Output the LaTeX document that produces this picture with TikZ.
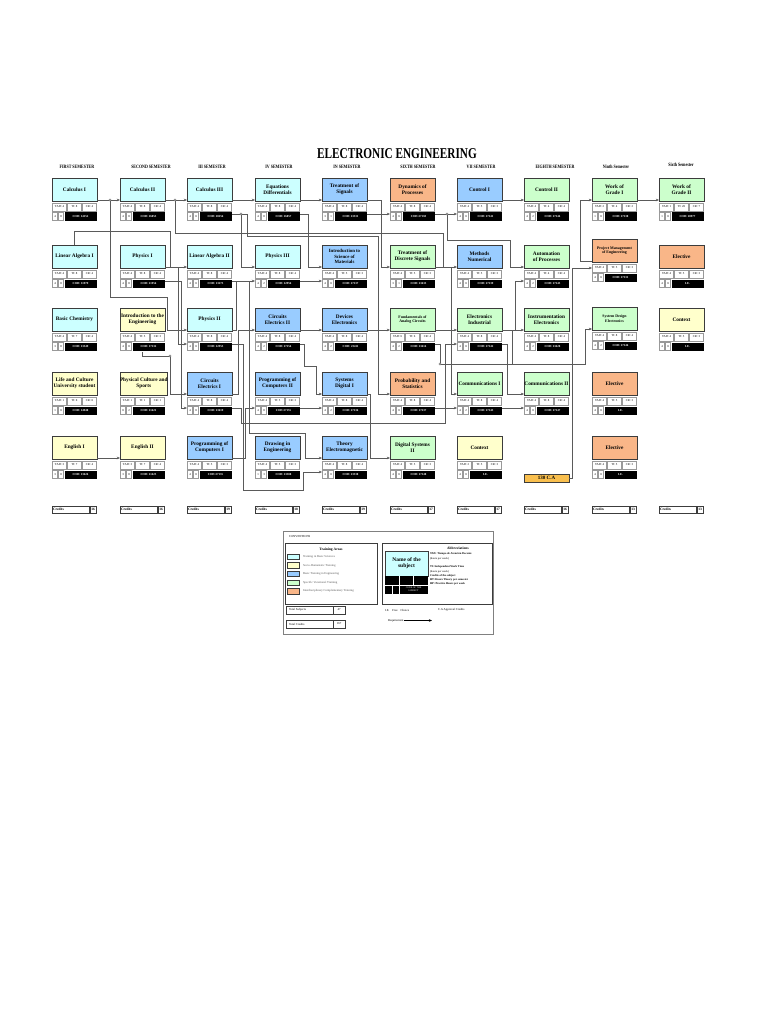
\documentclass[tikz,border=0pt]{standalone}
\usepackage{fontspec}
\setmainfont{Liberation Serif}
\usetikzlibrary{arrows.meta,calc}
\definecolor{cya}{HTML}{CCFFFF}
\definecolor{yel}{HTML}{FFFFCC}
\definecolor{blu}{HTML}{99CCFF}
\definecolor{gre}{HTML}{CCFFCC}
\definecolor{ora}{HTML}{F9B688}
\definecolor{gld}{HTML}{F9BF4E}
\definecolor{bord}{HTML}{3C3C3C}
\definecolor{lin}{HTML}{5A5A5A}
\newcommand\cond[1]{\scalebox{0.8}[1]{#1}}
\newcommand\subj[9]{%
 \def\cid{#1}\def\bx{#2}\def\by{#3}%
 \node[subjbox, fill=#4] (#1) at (#2,#3) {#5};
 \node[cellbox, minimum width=14pt] (#1-tad) at (#2+0.5,#3+25) {#6};
 \node[cellbox, minimum width=14pt] (#1-ti) at (#2+15.5,#3+25) {#7};
 \node[cellbox, minimum width=14pt] (#1-cr) at (#2+30.5,#3+25) {#8};
 #9
 \coordinate (#1-i1) at (#2,#3+22);
 \coordinate (#1-i2) at (#2,#3+36);
 \coordinate (#1-i3) at (#2,#3+29);
 \coordinate (#1-o1) at (#2+45,#3+22);
 \coordinate (#1-o2) at (#2+45,#3+36);
 \coordinate (#1-t) at (#2+22.5,#3);
 \coordinate (#1-b) at (#2+22.5,#3+44);
}
\newcommand\lastrow[3]{%
 \node[cellbox, minimum width=5pt] (\cid-a) at (\bx+0.5,\by+34.5) {#1};
 \node[cellbox, minimum width=5pt] (\cid-bb) at (\bx+6.5,\by+34.5) {#2};
 \node[codbox, minimum width=32pt] (\cid-cod) at (\bx+12.5,\by+34.5) {#3};
}
\newcommand\lnk[3]{\draw[conn] (#1) -- (#2 |- #1) -- (#2 |- #3) -- (#3);}
\newcommand\lnkb[5]{\draw[conn] (#1) -- (#2 |- #1) -- (#2 |- #3) -- (#4 |- #3) -- (#4 |- #5) -- (#5);}
\newcommand\cred[3]{%
 \node[credbox, text width=35pt, inner xsep=1pt, align=left] (#1) at (#2,506.5) {Credits};
 \node[credbox, minimum width=6pt, align=center] (#1-n) at (#2+38,506.5) {#3};
}
\tikzset{
 every node/.style={inner sep=0pt, outer sep=0pt},
 subjbox/.style={draw=bord, line width=0.9pt, minimum width=45pt, minimum height=23pt, anchor=north west, align=center, font=\fontsize{5.3}{6}\selectfont\bfseries},
 smallt/.style={font=\fontsize{3.9}{4.6}\selectfont\bfseries},
 midt/.style={font=\fontsize{4.8}{5.2}\selectfont\bfseries},
 cellbox/.style={draw=gray!80, fill=white, line width=0.35pt, minimum height=8pt, anchor=north west, font=\fontsize{3}{3}\selectfont},
 codbox/.style={fill=black, text=white, minimum height=8.5pt, anchor=north west, font=\fontsize{3}{3}\selectfont\bfseries},
 conn/.style={draw=lin, line width=0.7pt, -{Stealth[length=3.2pt,width=2.6pt]}},
 hdr/.style={font=\fontsize{5}{5}\selectfont\bfseries},
 credbox/.style={draw=bord, fill=white, line width=0.5pt, minimum height=6.5pt, anchor=north west, font=\fontsize{3.5}{3.5}\selectfont\bfseries},
 small/.style={font=\fontsize{3}{3.4}\selectfont},
 jdot/.style={draw=lin, fill=white, line width=0.4pt},
}
\begin{document}
\begin{tikzpicture}[x=1pt,y=-1pt]
\useasboundingbox (0,0) rectangle (768,1024);
\fill[white] (0,0) rectangle (768,1024);

% title and headers
\node (title) at (397,154) {\fontsize{15}{15}\selectfont\bfseries\scalebox{0.75}[1]{ELECTRONIC ENGINEERING}};
\node[hdr] (h1) at (77,166.5) {\cond{FIRST SEMESTER}};
\node[hdr] (h2) at (151,166.5) {\cond{SECOND SEMESTER}};
\node[hdr] (h3) at (212,166.5) {\cond{III SEMESTER}};
\node[hdr] (h4) at (279,166.5) {\cond{IV SEMESTER}};
\node[hdr] (h5) at (347,166.5) {\cond{IN SEMESTER}};
\node[hdr] (h6) at (418,166.5) {\cond{SIXTH SEMESTER}};
\node[hdr] (h7) at (481,166.5) {\cond{VII SEMESTER}};
\node[hdr] (h8) at (555,166.5) {\cond{EIGHTH SEMESTER}};
\node[hdr] (h9) at (616,166.5) {\cond{Ninth Semester}};
\node[hdr] (h10) at (681,165) {\cond{Sixth Semester}};

% column 1
\subj{c1r1}{52}{178}{cya}{Calculus I}{TAD: 4}{TI: 8}{CR: 4}{\lastrow{4}{8}{COD: 14152}}
\subj{c1r2}{52}{245}{cya}{Linear Algebra I}{TAD: 4}{TI: 8}{CR: 4}{\lastrow{4}{8}{COD: 11979}}
\subj{c1r3}{52}{308}{cya}{Basic Chemistry}{TAD: 4}{TI: 7}{CR: 4}{\lastrow{3}{8}{COD: 13549}}
\subj{c1r4}{52}{372}{yel}{Life and Culture\\University student}{TAD: 1}{TI: 0}{CR: 0}{\lastrow{1}{0}{COD: 14940}}
\subj{c1r5}{52}{436}{yel}{English I}{TAD: 3}{TI: 7}{CR: 4}{\lastrow{3}{8}{COD: 13424}}
% column 2
\subj{c2r1}{120}{178}{cya}{Calculus II}{TAD: 4}{TI: 8}{CR: 4}{\lastrow{4}{8}{COD: 26053}}
\subj{c2r2}{120}{245}{cya}{Physics I}{TAD: 4}{TI: 8}{CR: 4}{\lastrow{4}{8}{COD: 21956}}
\subj{c2r3}{120}{308}{yel}{Introduction to the\\Engineering}{TAD: 4}{TI: 5}{CR: 3}{\lastrow{4}{8}{COD: 17132}}
\subj{c2r4}{120}{372}{yel}{Physical Culture and\\Sports}{TAD: 1}{TI: 1}{CR: 1}{\lastrow{0}{2}{COD: 21421}}
\subj{c2r5}{120}{436}{yel}{English II}{TAD: 3}{TI: 7}{CR: 4}{\lastrow{3}{8}{COD: 21425}}
% column 3
\subj{c3r1}{187}{178}{cya}{Calculus III}{TAD: 4}{TI: 8}{CR: 4}{\lastrow{4}{0}{COD: 20256}}
\subj{c3r2}{187}{245}{cya}{Linear Algebra II}{TAD: 4}{TI: 8}{CR: 4}{\lastrow{4}{0}{COD: 13275}}
\subj{c3r3}{187}{308}{cya}{Physics II}{TAD: 4}{TI: 8}{CR: 4}{\lastrow{4}{0}{COD: 22955}}
\subj{c3r4}{187}{372}{blu}{Circuits\\Electrics I}{TAD: 4}{TI: 8}{CR: 4}{\lastrow{4}{0}{COD: 23619}}
\subj{c3r5}{187}{436}{blu}{Programming of\\Computers I}{TAD: 4}{TI: 5}{CR: 3}{\lastrow{4}{0}{COD:27135}}
% column 4
\subj{c4r1}{255}{178}{cya}{Equations\\Differentials}{TAD: 4}{TI: 8}{CR: 4}{\lastrow{4}{8}{COD: 26057}}
\subj{c4r2}{255}{245}{cya}{Physics III}{TAD: 4}{TI: 8}{CR: 4}{\lastrow{4}{2}{COD: 22956}}
\subj{c4r3}{255}{308}{blu}{Circuits\\Electrics II}{TAD: 4}{TI: 8}{CR: 4}{\lastrow{4}{2}{COD: 27154}}
\subj{c4r4}{255}{372}{blu}{Programming of\\Computers II}{TAD: 4}{TI: 5}{CR: 3}{\lastrow{4}{8}{COD:27155}}
\subj{c4r5}{255}{436}{blu}{Drawing in\\Engineering}{TAD: 4}{TI: 5}{CR: 3}{\lastrow{1}{3}{COD: 23300}}
% column 5
\subj{c5r1}{322}{178}{blu}{Treatment of\\Signals}{TAD: 4}{TI: 8}{CR: 4}{\lastrow{3}{1}{COD: 23531}}
\subj{c5r2}{322}{245}{blu, midt}{Introduction to\\Science of\\Materials}{TAD: 4}{TI: 5}{CR: 3}{\lastrow{4}{0}{COD: 27137}}
\subj{c5r3}{322}{308}{blu}{Devices\\Electronics}{TAD: 4}{TI: 8}{CR: 4}{\lastrow{4}{2}{COD: 23411}}
\subj{c5r4}{322}{372}{blu}{Systems\\Digital I}{TAD: 4}{TI: 8}{CR: 4}{\lastrow{4}{2}{COD: 27136}}
\subj{c5r5}{322}{436}{blu}{Theory\\Electromagnetic}{TAD: 4}{TI: 8}{CR: 4}{\lastrow{4}{0}{COD: 23530}}
% column 6
\subj{c6r1}{390}{178}{ora}{Dynamics of\\Processes}{TAD: 4}{TI: 8}{CR: 4}{\lastrow{4}{0}{COD:27138}}
\subj{c6r2}{390}{245}{gre}{Treatment of\\Discrete Signals}{TAD: 4}{TI: 5}{CR: 3}{\lastrow{3}{1}{COD: 23433}}
\subj{c6r3}{390}{308}{gre, smallt}{Fundamentals of\\Analog Circuits}{TAD: 6}{TI: 6}{CR: 4}{\lastrow{4}{2}{COD: 23414}}
\subj{c6r4}{390}{372}{ora}{Probability and\\Statistics}{TAD: 4}{TI: 8}{CR: 4}{\lastrow{4}{0}{COD: 27237}}
\subj{c6r5}{390}{436}{gre}{Digital Systems\\II}{TAD: 4}{TI: 5}{CR: 3}{\lastrow{4}{0}{COD: 27140}}
% column 7
\subj{c7r1}{457}{178}{blu}{Control I}{TAD: 4}{TI: 5}{CR: 3}{\lastrow{4}{0}{COD: 27141}}
\subj{c7r2}{457}{245}{blu}{Methods\\Numerical}{TAD: 4}{TI: 5}{CR: 3}{\lastrow{4}{0}{COD: 27139}}
\subj{c7r3}{457}{308}{gre}{Electronics\\Industrial}{TAD: 4}{TI: 8}{CR: 4}{\lastrow{4}{0}{COD: 27142}}
\subj{c7r4}{457}{372}{gre}{Communications I}{TAD: 4}{TI: 8}{CR: 4}{\lastrow{4}{2}{COD: 27143}}
\subj{c7r5}{457}{436}{yel}{Context}{TAD: 2}{TI: 5}{CR: 3}{\lastrow{4}{0}{I.E.}}
% column 8
\subj{c8r1}{524}{178}{gre}{Control II}{TAD: 4}{TI: 4}{CR: 4}{\lastrow{4}{2}{COD: 27144}}
\subj{c8r2}{524}{245}{gre}{Automation\\of Processes}{TAD: 4}{TI: 4}{CR: 4}{\lastrow{4}{2}{COD: 27145}}
\subj{c8r3}{524}{308}{gre}{Instrumentation\\Electronics}{TAD: 4}{TI: 8}{CR: 4}{\lastrow{4}{2}{COD: 23420}}
\subj{c8r4}{524}{372}{gre}{Communications II}{TAD: 4}{TI: 8}{CR: 4}{\lastrow{4}{0}{COD: 27147}}
\node[draw=bord, fill=gld, line width=0.6pt, minimum width=45pt, minimum height=8.5pt, anchor=north west, font=\fontsize{5}{5}\selectfont\bfseries] (ca) at (524,474) {130 C.A};
% column 9
\subj{c9r1}{592}{178}{gre}{Work of\\Grade I}{TAD: 2}{TI: 4}{CR: 2}{\lastrow{1}{0}{COD: 27130}}
\subj{c9r2}{592}{239}{ora, smallt}{Project Management\\of Engineering}{TAD: 4}{TI: 5}{CR: 3}{\lastrow{4}{0}{COD: 27131}}
\subj{c9r3}{592}{307}{gre, smallt}{System Design\\Electronics}{TAD: 4}{TI: 8}{CR: 4}{\lastrow{4}{2}{COD: 27146}}
\subj{c9r4}{592}{372}{ora}{Elective}{TAD: 4}{TI: 5}{CR: 3}{\lastrow{4}{0}{I.E.}}
\subj{c9r5}{592}{436}{ora}{Elective}{TAD: 4}{TI: 5}{CR: 3}{\lastrow{4}{0}{I.E.}}
% column 10
\subj{c10r1}{659}{178}{gre}{Work of\\Grade II}{TAD: 1}{TI: 20}{CR: 7}{\lastrow{1}{0}{COD: 20977}}
\subj{c10r2}{659}{245}{ora}{Elective}{TAD: 4}{TI: 5}{CR: 3}{\lastrow{4}{0}{I.E.}}
\subj{c10r3}{659}{308}{yel}{Context}{TAD: 4}{TI: 5}{CR: 3}{\lastrow{4}{0}{I.E.}}

% credits row
\cred{cr1}{52}{16}
\cred{cr2}{120}{16}
\cred{cr3}{187}{19}
\cred{cr4}{255}{18}
\cred{cr5}{322}{19}
\cred{cr6}{390}{17}
\cred{cr7}{457}{17}
\cred{cr8}{524}{16}
\cred{cr9}{592}{13}
\cred{cr10}{659}{13}

% lanes and buses
\foreach \v in {110,167,170,175,178,181,236,238,241,243,245,247,249,303,304,305,308,316,370,378,381,440,443,445,447,451,507,510,512,515,572,580,585}{\coordinate (X\v) at (\v,0);}
\foreach \v in {231,233,236,240,297,356,364,366,423,433,490}{\coordinate (Y\v) at (0,\v);}

% connectors
\draw[conn] (c1r1-o1) -- (c2r1-i1);
\draw[conn] (c2r1-o1) -- (c3r1-i1);
\draw[conn] (c3r1-o1) -- (c4r1-i1);
\draw[conn] (c4r1-o1) -- (c5r1-i1);
\draw[conn] (c5r1-o2) -- (c6r1-i2);
\draw[conn] (c6r1-o2) -- (c7r1-i2);
\draw[conn] (c7r1-o1) -- (c8r1-i1);
\draw[conn] (c9r1-o1) -- (c10r1-i1);
\lnk{c9r2-i1}{X580}{c9r1-i1}
\draw[conn] (ca.east) -- (X572 |- ca.east) -- (X572 |- c9r2-i3) -- (c9r2-i3);
\lnkb{c6r1-o2}{X447}{Y240}{X510}{c8r2-i1}
\lnk{c7r3-o1}{X515}{c8r2-i2}
\lnkb{c2r1-o1}{X175}{Y233}{X443}{c7r2-i1}
\draw[conn] (c1r2-t) -- (c1r2-t |- Y231) -- (X170 |- Y231) -- (X170 |- c3r2-i1) -- (c3r2-i1);
\lnkb{c1r1-o1}{X110}{Y297}{X167}{c3r3-i1}
\lnk{c2r2-o1}{X178}{c3r3-i2}
\lnk{c2r2-o2}{X181}{c3r4-i2}
\draw[conn] (c2r3-b) -- (c2r3-b |- Y356) -- (X170 |- Y356) -- (X170 |- c3r4-i1) -- (c3r4-i1);
\draw[conn] (c1r5-o1) -- (c2r5-i1);
\lnk{c3r1-o2}{X241}{c4r2-i1}
\lnk{c3r3-o1}{X236}{c4r2-i2}
\lnk{c3r4-o1}{X238}{c4r3-i1}
\lnkb{c3r3-o2}{X243}{Y490}{X303}{c5r5-i2}
\lnkb{c3r2-o2}{X249}{Y433}{X305}{c5r5-i1}
\lnk{c3r5-o1}{X245}{c4r4-i2}
\lnk{c4r1-o2}{X308}{c5r2-i1}
\draw[conn] (c4r2-o2) -- (c5r2-i2);
\draw[conn] (c4r3-o1) -- (c5r3-i1);
\lnkb{c4r3-o2}{X304}{Y366}{X316}{c5r4-i1}
\draw[conn] (c4r4-o2) -- (c5r4-i2);
\lnk{c5r1-o1}{X381}{c6r2-i1}
\draw[conn] (c5r3-o1) -- (c6r3-i1);
\lnk{c5r4-o1}{X370}{c6r5-i1}
\lnkb{c3r1-o2}{X247}{Y236}{X378}{c6r4-i1}
\lnk{c6r2-o1}{X451}{c7r4-i1}
\draw[conn] (c6r4-o2) -- (c7r4-i2);
\draw[conn] (c6r3-o1) -- (c7r3-i1);
\lnkb{c6r3-o2}{X440}{Y364}{X512}{c8r3-i1}
\lnkb{c6r3-o2}{X440}{Y364}{X585}{c9r3-i1}
\draw[conn] (c7r4-o2) -- (c8r4-i2);
\lnk{c7r3-o2}{X507}{c8r4-i1}
\lnkb{c3r4-o2}{X241}{Y423}{X445}{c7r3-i2}

% junction dots
\foreach \p in {(X110 |- c1r1-o1),(X175 |- c2r1-o1),(X241 |- c3r1-o2),(X447 |- c6r1-o2),(X440 |- Y364),(X170 |- Y356)}{\draw[jdot] \p circle (1.1pt);}

% legend
\node[draw=gray, line width=0.5pt, minimum width=210pt, minimum height=103pt, anchor=north west] (legend) at (283,531) {};
\node[anchor=west, small] (conv) at (289,536.5) {CONVENTIONS};
\node[draw=bord, line width=0.9pt, minimum width=92pt, minimum height=61pt, anchor=north west] (areas) at (285,543) {};
\node[font=\fontsize{3.6}{4}\selectfont\bfseries] (areast) at (331,550) {Training Areas};
\foreach \c/\t [count=\i] in {cya/Training in Basic Sciences, yel/Socio-Humanistic Training, blu/Basic Training in Engineering, gre/Specific Vocational Training, ora/Interdisciplinary Complementary Training}{
 \node[draw=bord, line width=0.6pt, fill=\c, minimum width=12pt, minimum height=5.5pt, anchor=north west] (sw\i) at (287.5,{554+8.6*(\i-1)}) {};
 \node[anchor=west, small, text=gray!70!black] (swl\i) at (303,{556.8+8.6*(\i-1)}) {\t};
}
\node[draw=bord, line width=0.9pt, minimum width=110pt, minimum height=61pt, anchor=north west] (abbr) at (382,543) {};
\node[draw=bord, fill=cya, line width=0.6pt, minimum width=43pt, minimum height=25pt, anchor=north west, align=center, font=\fontsize{5.5}{6.2}\selectfont\bfseries] (sample) at (385,551) {Name of the\\subject};
\node[fill=black, minimum width=43pt, minimum height=18pt, anchor=north west] (sampletab) at (385,576) {};
\draw[white, line width=0.3pt] (385,585) -- (428,585) (399,576) -- (399,594) (413,576) -- (413,585) (392,585) -- (392,594);
\node[text=white, align=center, font=\fontsize{2.4}{2.6}\selectfont] (samplecod) at (413.5,589.5) {CODE OF THE\\SUBJECT};
\node[font=\fontsize{3.6}{4}\selectfont\bfseries] (abbrt) at (458,548.5) {Abbreviations};
\node[anchor=west, font=\fontsize{2.8}{3}\selectfont\bfseries] (ab1) at (430,554) {TAD: Tiempo de Atención Docente};
\node[anchor=west, font=\fontsize{2.8}{3}\selectfont] (ab2) at (430,559) {(hours per week)};
\node[anchor=west, font=\fontsize{2.8}{3}\selectfont\bfseries] (ab3) at (430,567) {TI: Independent Work Time};
\node[anchor=west, font=\fontsize{2.8}{3}\selectfont] (ab4) at (430,571.5) {(hours per week)};
\node[anchor=west, font=\fontsize{2.8}{3}\selectfont\bfseries] (ab5) at (430,576) {Credits of the subject};
\node[anchor=west, font=\fontsize{2.8}{3}\selectfont\bfseries] (ab6) at (430,580) {HT: Hours Theory per semester};
\node[anchor=west, font=\fontsize{2.8}{3}\selectfont\bfseries] (ab7) at (430,584) {HP: Practice Hours per week};
\node[draw=bord, line width=0.7pt, minimum width=59pt, minimum height=8pt, anchor=north west] (tsub) at (286,606) {};
\draw[bord, line width=0.7pt] (333,606) -- (333,614);
\node[anchor=west, small] (tsubl) at (289,610) {Total Subjects};
\node[small] (tsubn) at (339,610) {47};
\node[draw=bord, line width=0.7pt, minimum width=59pt, minimum height=8pt, anchor=north west] (tcr) at (286,620) {};
\draw[bord, line width=0.7pt] (333,620) -- (333,628);
\node[anchor=west, small] (tcrl) at (289,624) {Total Credits};
\node[small] (tcrn) at (339,624) {167};
\node[anchor=west, small] (ie) at (385,610) {I.E.\quad Free\quad Choice};
\node[anchor=west, small] (cal) at (438,610) {C.A Approval Credits};
\node[anchor=west, small] (req) at (388,620.5) {Requirement};
\coordinate (reqend) at (432,620.5);
\draw[conn, draw=black] (req.east) -- (reqend);
\end{tikzpicture}
\end{document}
